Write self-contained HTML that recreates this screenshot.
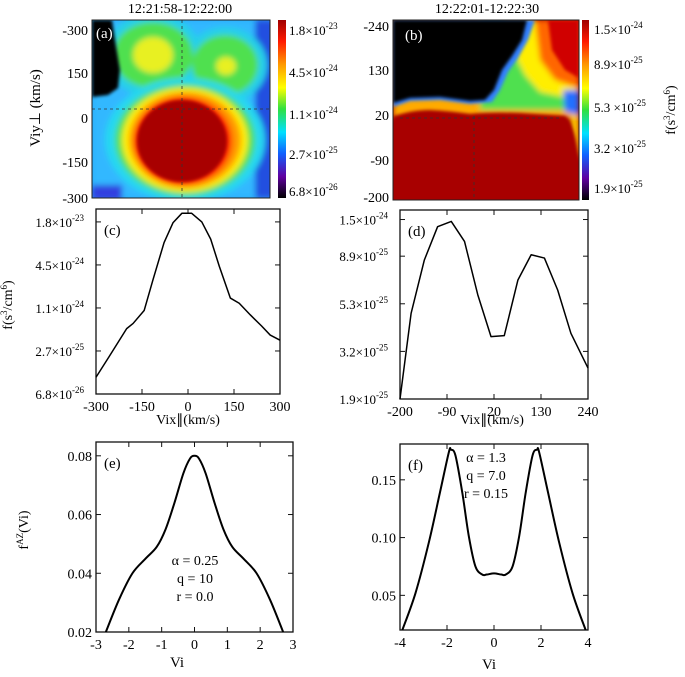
<!DOCTYPE html>
<html><head><meta charset="utf-8"><style>
body{margin:0;background:#fff;}
svg{display:block;font-family:"Liberation Serif",serif;}
</style></head><body>
<svg id="fig" width="685" height="677" viewBox="0 0 685 677" xmlns="http://www.w3.org/2000/svg">
<defs>
<filter id="bl" x="-20%" y="-20%" width="140%" height="140%"><feGaussianBlur stdDeviation="3"/></filter>
<filter id="bl2" x="-20%" y="-20%" width="140%" height="140%"><feGaussianBlur stdDeviation="1.5"/></filter>
<linearGradient id="cb" x1="0" y1="0" x2="0" y2="1">
<stop offset="0" stop-color="#a00000"/><stop offset="0.12" stop-color="#ff1a00"/><stop offset="0.25" stop-color="#ff9900"/><stop offset="0.38" stop-color="#ffff00"/><stop offset="0.5" stop-color="#30e040"/><stop offset="0.63" stop-color="#00e0ff"/><stop offset="0.75" stop-color="#1060ff"/><stop offset="0.88" stop-color="#6000a0"/><stop offset="1" stop-color="#000"/>
</linearGradient>
<clipPath id="ca"><rect x="92" y="20" width="178" height="178"/></clipPath>
<clipPath id="cbp"><rect x="393" y="20" width="186" height="180"/></clipPath>
</defs>

<text x="180" y="13" font-size="14" text-anchor="middle">12:21:58-12:22:00</text>
<text x="487" y="13" font-size="14" text-anchor="middle">12:22:01-12:22:30</text>

<!-- panel a heatmap -->
<g clip-path="url(#ca)">
<rect x="92" y="20" width="178" height="178" fill="#2aa8f8"/>
<g filter="url(#bl)">
<rect x="92" y="20" width="178" height="178" fill="#30b8ff"/>
<rect x="255" y="20" width="20" height="178" fill="#2050e0"/>
<rect x="92" y="185" width="30" height="15" fill="#3040e0"/>
<ellipse cx="153" cy="55" rx="48" ry="42" fill="#28d0e8"/>
<ellipse cx="225" cy="65" rx="42" ry="38" fill="#28d0e8"/>
<ellipse cx="153" cy="55" rx="40" ry="33" fill="#50e050"/>
<ellipse cx="225" cy="65" rx="33" ry="30" fill="#50e050"/>
<ellipse cx="153" cy="55" rx="20" ry="18" fill="#e8f020"/>
<ellipse cx="226" cy="66" rx="10" ry="9" fill="#e8f020"/>
<ellipse cx="188" cy="108" rx="10" ry="8" fill="#3020c0"/>
<ellipse cx="185" cy="140" rx="80" ry="62" fill="#28d8f0"/>
<ellipse cx="185" cy="140" rx="70" ry="56" fill="#50e050"/>
<ellipse cx="185" cy="140" rx="63" ry="52" fill="#ffee00"/>
<ellipse cx="185" cy="140" rx="56" ry="48" fill="#ff9900"/>
<ellipse cx="183" cy="141" rx="49" ry="44" fill="#ff2000"/>
</g>
<polygon points="92,20 112,20 115,40 120,70 118,88 108,95 92,97" fill="#000" filter="url(#bl2)"/>
<ellipse cx="182" cy="141" rx="45" ry="41" fill="#a80000" filter="url(#bl2)"/>
<line x1="182" y1="20" x2="182" y2="198" stroke="#333" stroke-dasharray="3,3" stroke-width="0.8"/>
<line x1="92" y1="109" x2="270" y2="109" stroke="#333" stroke-dasharray="3,3" stroke-width="0.8"/>
<text x="96" y="38" font-size="15" fill="#fff">(a)</text>
</g>
<rect x="92" y="20" width="178" height="178" fill="none" stroke="#222" stroke-width="1"/>
<rect x="278" y="20" width="8" height="178" fill="url(#cb)"/>
<g font-size="13">
<text x="289" y="35">1.8×10<tspan dy="-6" font-size="9">-23</tspan></text>
<text x="289" y="77">4.5×10<tspan dy="-6" font-size="9">-24</tspan></text>
<text x="289" y="119">1.1×10<tspan dy="-6" font-size="9">-24</tspan></text>
<text x="289" y="159">2.7×10<tspan dy="-6" font-size="9">-25</tspan></text>
<text x="289" y="196">6.8×10<tspan dy="-6" font-size="9">-26</tspan></text>
</g>
<g font-size="14" text-anchor="end">
<text x="88" y="35">-300</text><text x="88" y="78">150</text><text x="88" y="123">0</text><text x="88" y="167">-150</text><text x="88" y="203">-300</text>
</g>
<text font-size="15" text-anchor="middle" transform="translate(40,108) rotate(-90)">Viy⊥ (km/s)</text>

<!-- panel b heatmap -->
<g clip-path="url(#cbp)">
<rect x="393" y="20" width="186" height="180" fill="#a80000"/>
<g filter="url(#bl)">
<polygon points="393,20 579,20 579,118 393,118" fill="#ffaa00"/>
<polygon points="480,20 579,20 579,110 480,110" fill="#50e050"/>
<polygon points="505,20 579,20 579,100 540,92 525,75 515,55" fill="#ffee00"/>
<polygon points="535,20 579,20 579,88 555,80 540,60" fill="#ff6600"/>
<polygon points="563,90 579,90 579,115 565,112" fill="#2070ff"/>
<polygon points="570,115 579,115 579,160 572,150" fill="#ffcc00"/>
</g>
<polygon points="548,20 579,20 579,78 565,70 552,50" fill="#d00000" filter="url(#bl2)"/>
<polygon points="393,20 535,20 528,40 518,58 508,72 500,90 492,102 470,104 440,100 410,101 393,107" fill="#3080ff" filter="url(#bl2)"/>
<polygon points="393,20 527,20 522,40 512,56 502,70 494,90 485,100 470,101 440,97 410,98 393,103" fill="#000" filter="url(#bl2)"/>
<path d="M393,117 Q410,110 430,110 Q450,111 470,114 Q490,112 520,113 L565,116 Q575,125 579,160 L579,200 L393,200 Z" fill="#a80000" filter="url(#bl2)"/>
<line x1="474" y1="116" x2="474" y2="200" stroke="#333" stroke-dasharray="3,3" stroke-width="0.8"/>
<line x1="400" y1="118" x2="560" y2="118" stroke="#333" stroke-dasharray="3,3" stroke-width="0.8"/>
<text x="405" y="40" font-size="15" fill="#fff">(b)</text>
</g>
<rect x="393" y="20" width="186" height="180" fill="none" stroke="#222" stroke-width="1"/>
<rect x="582" y="20" width="7" height="180" fill="url(#cb)"/>
<g font-size="13">
<text x="594" y="34">1.5×10<tspan dy="-6" font-size="9">-24</tspan></text>
<text x="594" y="69">8.9×10<tspan dy="-6" font-size="9">-25</tspan></text>
<text x="594" y="112">5.3 ×10<tspan dy="-6" font-size="9">-25</tspan></text>
<text x="594" y="153">3.2 ×10<tspan dy="-6" font-size="9">-25</tspan></text>
<text x="594" y="193">1.9×10<tspan dy="-6" font-size="9">-25</tspan></text>
</g>
<g font-size="14" text-anchor="end">
<text x="389" y="31">-240</text><text x="389" y="75">130</text><text x="389" y="120">20</text><text x="389" y="165">-90</text><text x="389" y="202">-200</text>
</g>
<text font-size="14" text-anchor="middle" transform="translate(675,110) rotate(-90)">f(s<tspan dy="-5" font-size="9">3</tspan><tspan dy="5">/cm</tspan><tspan dy="-5" font-size="9">6</tspan><tspan dy="5">)</tspan></text>

<g id="plots"></g>

<text font-size="14" text-anchor="middle" transform="translate(12,305) rotate(-90)">f(s<tspan dy="-5" font-size="9">3</tspan><tspan dy="5">/cm</tspan><tspan dy="-5" font-size="9">6</tspan><tspan dy="5">)</tspan></text>
<text x="188" y="424" font-size="14" text-anchor="middle">Vix∥(km/s)</text>
<text x="492" y="424" font-size="14" text-anchor="middle">Vix∥(km/s)</text>
<text font-size="14" text-anchor="middle" transform="translate(28,530) rotate(-90)">f<tspan dy="-5" font-size="9">AZ</tspan><tspan dy="5">(Vi)</tspan></text>
<text x="177" y="667" font-size="15" text-anchor="middle">Vi</text>
<text x="489" y="669" font-size="15" text-anchor="middle">Vi</text>
</svg>
<script>
const cX=[-300,-258,-200,-179,-143,-114,-78,-49,-20,12,45,74,102,138,167,203,240,268,300];
const cY=[0.39,0.86,1.52,1.64,1.94,2.66,3.52,3.98,4.2,4.2,4.0,3.6,2.97,2.23,2.11,1.84,1.58,1.37,1.25];
const cXTicks=[-300,-150,0,150,300];
const cYTicks=[0,1,2,3,4];
const cYLabels=[["6.8","-26"],["2.7","-25"],["1.1","-24"],["4.5","-24"],["1.8","-23"]];
const dX=[-200,-174,-143,-112,-80,-49,-18,13,44,76,107,138,169,200,240];
const dY=[0,1.80,2.92,3.62,3.73,3.31,2.19,1.31,1.33,2.50,3.03,2.96,2.29,1.38,0.65];
const dXTicks=[-200,-90,20,130,240];
const dYTicks=[0,1,2,3,3.77];
const dYLabels=[["1.9","-25"],["3.2","-25"],["5.3","-25"],["8.9","-25"],["1.5","-24"]];
const eX=[-2.7,-2.3,-1.89,-1.49,-1.15,-0.88,-0.61,-0.34,-0.14,0,0.14,0.34,0.61,0.88,1.15,1.49,1.89,2.3,2.7];
const eY=[0.02,0.031,0.040,0.045,0.049,0.055,0.064,0.074,0.079,0.080,0.079,0.074,0.064,0.055,0.049,0.045,0.040,0.031,0.02];
const eXTicks=[-3,-2,-1,0,1,2,3];
const eYTicks=[0.02,0.04,0.06,0.08];
const fX=[-3.9,-3.34,-2.77,-2.3,-1.92,-1.83,-1.64,-1.35,-1.07,-0.79,-0.5,-0.31,0,0.31,0.5,0.79,1.07,1.35,1.64,1.83,1.92,2.3,2.77,3.34,3.9];
const fY=[0.020,0.052,0.096,0.139,0.174,0.176,0.171,0.139,0.101,0.075,0.068,0.068,0.069,0.068,0.068,0.075,0.101,0.139,0.171,0.176,0.174,0.139,0.096,0.052,0.020];
const fXTicks=[-4,-2,0,2,4];
const fYTicks=[0.05,0.10,0.15];

const NS="http://www.w3.org/2000/svg";
const root=document.getElementById('plots');
function mk(tag,attrs,parent){const e=document.createElementNS(NS,tag);for(const k in attrs)e.setAttribute(k,attrs[k]);(parent||root).appendChild(e);return e;}
function lin(d0,d1,r0,r1){return v=>r0+(v-d0)/(d1-d0)*(r1-r0);}
function smoothPath(pts){let d="M"+pts[0][0]+","+pts[0][1];for(let i=0;i<pts.length-1;i++){const p0=pts[Math.max(0,i-1)],p1=pts[i],p2=pts[i+1],p3=pts[Math.min(pts.length-1,i+2)];const c1=[p1[0]+(p2[0]-p0[0])/6,p1[1]+(p2[1]-p0[1])/6],c2=[p2[0]-(p3[0]-p1[0])/6,p2[1]-(p3[1]-p1[1])/6];d+=" C"+c1+" "+c2+" "+p2;}return d;}

function panel(o){
  const g=mk('g',{});
  
  
  const sx=lin(o.xd[0],o.xd[1],o.L,o.R), sy=lin(o.yd[0],o.yd[1],o.B,o.T);
  const fr=mk('rect',{x:o.L,y:o.T,width:o.R-o.L,height:o.B-o.T,fill:'none',stroke:'#111','stroke-width':1.3},g);
  
  
  o.xt.forEach((v,i)=>{const x=sx(v);
    mk('line',{x1:x,y1:o.B,x2:x,y2:o.B-5,stroke:'#111'},g);
    mk('line',{x1:x,y1:o.T,x2:x,y2:o.T+5,stroke:'#111'},g);
    const t=mk('text',{x:x,y:o.B+17,'font-size':14,'text-anchor':'middle'},g);
    
    
    t.textContent=String(v);});
  o.yt.forEach((v,i)=>{const y=sy(v);
    mk('line',{x1:o.L,y1:y,x2:o.L+5,y2:y,stroke:'#111'},g);
    mk('line',{x1:o.R,y1:y,x2:o.R-5,y2:y,stroke:'#111'},g);
    const t=mk('text',{x:o.L-4,y:y+5,'font-size':o.exp?13:14,'text-anchor':'end'},g);
    
    
    if(o.exp){t.textContent=o.exp[i][0]+"×10";const s=mk('tspan',{dy:-6,'font-size':9},t);s.textContent=o.exp[i][1];t.setAttribute('x',o.L-12);}
    else t.textContent=o.yfmt(v);});
  const pts=o.xs.map((v,i)=>[sx(v),sy(o.ys[i])]);
  const p=mk('path',{d:o.smooth?smoothPath(pts):"M"+pts.map(q=>q.join(',')).join(' L'),fill:'none',stroke:'#000','stroke-width':o.smooth?2:1.5,'stroke-linejoin':'round'},g);
  
  
  const lb=mk('text',{x:o.L+8,y:o.T+26,'font-size':15},g);
  
  
  lb.textContent=o.label;
  if(o.params){o.params.forEach((s,i)=>{const t=mk('text',{x:o.px,y:o.py+i*18,'font-size':14,'text-anchor':'middle'},g);
    
    
    t.textContent=s;});}
}
panel({name:'panel-c',L:96,R:280,T:209,B:394,xd:[-300,300],yd:[0,4.3],xs:cX,ys:cY,xt:cXTicks,yt:cYTicks,exp:cYLabels,label:'(c)'});
panel({name:'panel-d',L:400,R:588,T:210,B:399,xd:[-200,240],yd:[0,3.97],xs:dX,ys:dY,xt:dXTicks,yt:dYTicks,exp:dYLabels,label:'(d)'});
panel({name:'panel-e',L:96,R:293,T:442,B:632,xd:[-3,3],yd:[0.02,0.0847],xs:eX,ys:eY,xt:eXTicks,yt:eYTicks,yfmt:v=>v.toFixed(2),label:'(e)',smooth:true,params:['α = 0.25','q = 10','r = 0.0'],px:195,py:565});
panel({name:'panel-f',L:400,R:588,T:444,B:630,xd:[-4,4],yd:[0.02,0.181],xs:fX,ys:fY,xt:fXTicks,yt:fYTicks,yfmt:v=>v.toFixed(2),label:'(f)',smooth:true,params:['α = 1.3','q = 7.0','r = 0.15'],px:486,py:462});
</script>
</body></html>
